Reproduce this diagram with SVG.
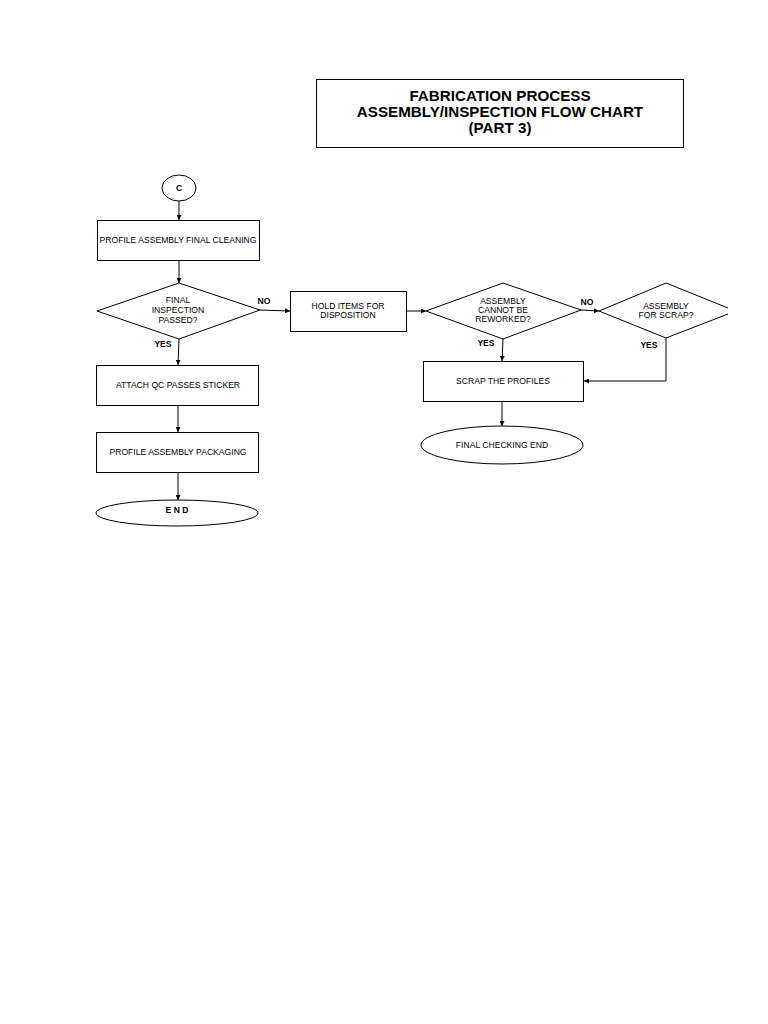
<svg xmlns="http://www.w3.org/2000/svg" width="768" height="1024" viewBox="0 0 768 1024">
<style>
.s{fill:#fff;stroke:#000;stroke-width:1}
.t{font-family:"Liberation Sans",Arial,sans-serif;font-size:8.6px;fill:#000;text-anchor:middle}
.b{font-weight:bold}
.ttl{font-family:"Liberation Sans",Arial,sans-serif;font-size:15.2px;font-weight:bold;fill:#000;text-anchor:middle}
.c{fill:none;stroke:#000;stroke-width:1}
</style>
<defs>
<marker id="a" viewBox="0 0 8 8" refX="8" refY="4" markerWidth="5" markerHeight="5" orient="auto" markerUnits="userSpaceOnUse"><path d="M0,0L8,4L0,8z" fill="#000"/></marker>
</defs>
<rect width="768" height="1024" fill="#fff"/>
<g id="title">
<rect class="s" x="316.5" y="79.5" width="367" height="68"/>
<text class="ttl" x="500" y="101">FABRICATION PROCESS</text>
<text class="ttl" x="500" y="117">ASSEMBLY/INSPECTION FLOW CHART</text>
<text class="ttl" x="500" y="133">(PART 3)</text>
</g>
<g id="connectors">
<path class="c" d="M179,201V220" marker-end="url(#a)"/>
<path class="c" d="M179,260V283" marker-end="url(#a)"/>
<path class="c" d="M260,310L290,311" marker-end="url(#a)"/>
<path class="c" d="M406,311H426" marker-end="url(#a)"/>
<path class="c" d="M581,310L599,311" marker-end="url(#a)"/>
<path class="c" d="M666,338V381H584" marker-end="url(#a)"/>
<path class="c" d="M503,339L502,361" marker-end="url(#a)"/>
<path class="c" d="M502,401V426" marker-end="url(#a)"/>
<path class="c" d="M179,339L178,365" marker-end="url(#a)"/>
<path class="c" d="M178,406V432" marker-end="url(#a)"/>
<path class="c" d="M178,472V500" marker-end="url(#a)"/>
<text class="t b" x="264" y="304">NO</text>
<text class="t b" x="163" y="347">YES</text>
<text class="t b" x="587" y="305">NO</text>
<text class="t b" x="486" y="346">YES</text>
<text class="t b" x="649" y="348">YES</text>
</g>
<g id="start">
<ellipse class="s" cx="179" cy="188" rx="17" ry="13"/>
<text class="t b" x="179" y="191">C</text>
</g>
<g id="cleaning">
<rect class="s" x="97.5" y="220.5" width="162" height="40"/>
<text class="t" x="178" y="243">PROFILE ASSEMBLY FINAL CLEANING</text>
</g>
<g id="inspection">
<polygon class="s" points="97,311 179,283 260,310 179,339"/>
<text class="t" x="178" y="303">FINAL</text>
<text class="t" x="178" y="313">INSPECTION</text>
<text class="t" x="178" y="323">PASSED?</text>
</g>
<g id="hold">
<rect class="s" x="290.5" y="291.5" width="116" height="40"/>
<text class="t" x="348" y="309">HOLD ITEMS FOR</text>
<text class="t" x="348" y="318">DISPOSITION</text>
</g>
<g id="rework">
<polygon class="s" points="426,311 503,283 581,310 503,339"/>
<text class="t" x="503" y="304">ASSEMBLY</text>
<text class="t" x="503" y="313">CANNOT BE</text>
<text class="t" x="503" y="322">REWORKED?</text>
</g>
<g id="scrapq">
<path class="s" d="M728,308L666,283L599,311L666,338L728,314"/>
<text class="t" x="666" y="309">ASSEMBLY</text>
<text class="t" x="666" y="318">FOR SCRAP?</text>
</g>
<g id="scrap">
<rect class="s" x="423.5" y="361.5" width="160" height="40"/>
<text class="t" x="503" y="384">SCRAP THE PROFILES</text>
</g>
<g id="finalend">
<ellipse class="s" cx="502" cy="445" rx="81" ry="19"/>
<text class="t" x="502" y="448">FINAL CHECKING END</text>
</g>
<g id="sticker">
<rect class="s" x="96.5" y="365.5" width="162" height="40"/>
<text class="t" x="178" y="388">ATTACH QC PASSES STICKER</text>
</g>
<g id="packaging">
<rect class="s" x="96.5" y="432.5" width="162" height="40"/>
<text class="t" x="178" y="455">PROFILE ASSEMBLY PACKAGING</text>
</g>
<g id="end">
<ellipse class="s" cx="177" cy="513" rx="81" ry="13"/>
<text class="t b" x="177" y="513">E N D</text>
</g>
</svg>
